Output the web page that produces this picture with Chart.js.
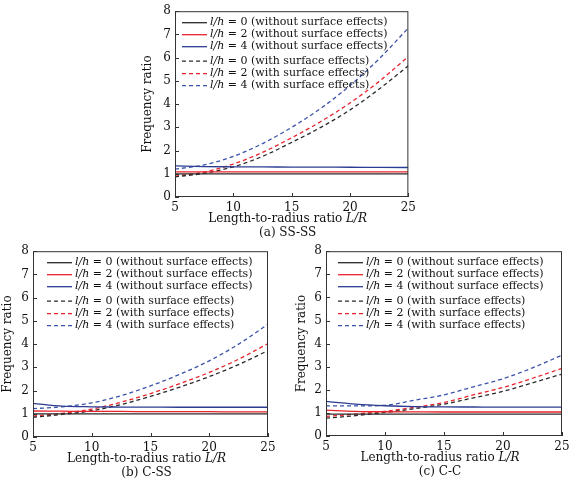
<!DOCTYPE html>
<html>
<head>
<meta charset="utf-8">
<script src="https://cdn.jsdelivr.net/npm/chart.js@4.4.1/dist/chart.umd.min.js"></script>
<style>
    html, body { margin: 0; padding: 0; background: #fff; }
    body { width: 585px; height: 489px; position: relative; overflow: hidden; }
    canvas { position: absolute; }
</style>
</head>
<body>
<canvas id="chartSS" width="280" height="242" style="left:140px;top:0px;"></canvas>
<canvas id="chartCSS" width="290" height="249" style="left:0px;top:240px;"></canvas>
<canvas id="chartCC" width="295" height="249" style="left:290px;top:240px;"></canvas>
<script>
// length-to-radius ratio L/R (x positions of the read values)
const lengthRatio = [5, 7.5, 10, 12.5, 15, 17.5, 20, 22.5, 25];
const xTicks = [5, 10, 15, 20, 25];
const yTicks = [0, 1, 2, 3, 4, 5, 6, 7, 8];

const legendLabels = [
    ['0', '(without surface effects)'],
    ['2', '(without surface effects)'],
    ['4', '(without surface effects)'],
    ['0', '(with surface effects)'],
    ['2', '(with surface effects)'],
    ['4', '(with surface effects)']
];

// (a) SS-SS
const ssNoSurf0 = [1.0, 1.0, 1.0, 1.0, 1.0, 1.0, 1.0, 1.0, 1.0];
const ssNoSurf2 = [1.08, 1.08, 1.08, 1.08, 1.08, 1.08, 1.08, 1.08, 1.08];
const ssNoSurf4 = [1.34, 1.31, 1.30, 1.295, 1.29, 1.285, 1.28, 1.275, 1.27];
const ssSurf0 = [0.87, 1.02, 1.30, 1.75, 2.35, 3.00, 3.75, 4.65, 5.65];
const ssSurf2 = [0.90, 1.07, 1.42, 1.92, 2.55, 3.25, 4.05, 4.98, 6.05];
const ssSurf4 = [1.20, 1.38, 1.75, 2.30, 3.00, 3.82, 4.80, 5.95, 7.28];

// (b) C-SS
const cssNoSurf0 = [1.0, 1.0, 1.0, 1.0, 1.0, 1.0, 1.0, 1.0, 1.0];
const cssNoSurf2 = [1.12, 1.11, 1.10, 1.10, 1.09, 1.09, 1.09, 1.08, 1.08];
const cssNoSurf4 = [1.45, 1.33, 1.30, 1.29, 1.285, 1.28, 1.28, 1.28, 1.28];
const cssSurf0 = [0.85, 0.97, 1.13, 1.40, 1.75, 2.15, 2.60, 3.12, 3.72];
const cssSurf2 = [0.90, 1.02, 1.20, 1.50, 1.87, 2.30, 2.78, 3.35, 4.02];
const cssSurf4 = [1.22, 1.30, 1.47, 1.78, 2.20, 2.70, 3.28, 4.00, 4.86];

// (c) C-C
const ccNoSurf0 = [0.95, 0.95, 0.95, 0.95, 0.95, 0.95, 0.95, 0.95, 0.95];
const ccNoSurf2 = [1.12, 1.07, 1.05, 1.045, 1.04, 1.04, 1.04, 1.04, 1.04];
const ccNoSurf4 = [1.50, 1.38, 1.31, 1.27, 1.26, 1.255, 1.25, 1.25, 1.25];
const ccSurf0 = [0.77, 0.88, 1.02, 1.18, 1.38, 1.65, 1.93, 2.30, 2.68];
const ccSurf2 = [0.85, 0.95, 1.07, 1.24, 1.45, 1.78, 2.10, 2.50, 2.93];
const ccSurf4 = [1.30, 1.30, 1.33, 1.55, 1.78, 2.13, 2.48, 2.95, 3.50];

const FONT = "'DejaVu Serif', 'Liberation Serif', serif";
const TEXT = '#111';
const LEGEND_SIZE = 11;
const TITLE_SIZE = 12;
const TICK_SIZE = 12;
const lineStyles = [
    { color: '#2a2a2a', dash: [] },
    { color: '#e8232b', dash: [] },
    { color: '#2b3c92', dash: [] },
    { color: '#2a2a2a', dash: [4, 3] },
    { color: '#e8232b', dash: [4, 3] },
    { color: '#3a52aa', dash: [4, 3] }
];

function drawParts(ctx, parts, x, y, size) {
    parts.forEach(p => {
        ctx.font = (p.italic ? 'italic ' : '') + size + 'px ' + FONT;
        ctx.fillText(p.t, x, y);
        x += ctx.measureText(p.t).width;
    });
    return x;
}

function partsWidth(ctx, parts, size) {
    let w = 0;
    parts.forEach(p => {
        ctx.font = (p.italic ? 'italic ' : '') + size + 'px ' + FONT;
        w += ctx.measureText(p.t).width;
    });
    return w;
}

const framePlugin = {
    id: 'frame',
    afterDraw(chart) {
        const ctx = chart.ctx;
        const a = chart.chartArea;
        const o = chart.options.plugins.frame;
        ctx.save();

        // box and inward ticks
        ctx.strokeStyle = '#333';
        ctx.lineWidth = 1;
        ctx.setLineDash([]);
        ctx.strokeRect(a.left + 0.5, a.top + 0.5, a.right - a.left - 1, a.bottom - a.top - 1);
        const xs = chart.scales.x;
        const ys = chart.scales.y;
        ctx.beginPath();
        xs.ticks.forEach((t, i) => {
            const px = Math.round(xs.getPixelForTick(i)) + 0.5;
            ctx.moveTo(px, a.bottom);
            ctx.lineTo(px, a.bottom - 4);
        });
        ys.ticks.forEach((t, i) => {
            const py = Math.round(ys.getPixelForTick(i)) + 0.5;
            ctx.moveTo(a.left, py);
            ctx.lineTo(a.left + 4, py);
        });
        ctx.stroke();

        // legend inside the plot
        const rows = [11, 23, 35, 49.5, 62, 74];
        ctx.textBaseline = 'middle';
        ctx.fillStyle = TEXT;
        chart.data.datasets.forEach((ds, i) => {
            const y = a.top + rows[i];
            const x0 = a.left + o.legendX;
            ctx.strokeStyle = ds.borderColor;
            ctx.lineWidth = 1.3;
            ctx.setLineDash(ds.borderDash || []);
            ctx.beginPath();
            ctx.moveTo(x0, y + 0.5);
            ctx.lineTo(x0 + 25, y + 0.5);
            ctx.stroke();
            ctx.setLineDash([]);
            ctx.fillStyle = TEXT;
            drawParts(ctx, [
                { t: 'l/h', italic: true },
                { t: ' = ' + legendLabels[i][0] + ' ' + legendLabels[i][1] }
            ], x0 + 28, y, LEGEND_SIZE);
        });

        // axis titles and caption
        ctx.textBaseline = 'middle';
        ctx.save();
        ctx.translate(a.left + o.yTitleDx, (a.top + a.bottom) / 2);
        ctx.rotate(-Math.PI / 2);
        ctx.textAlign = 'center';
        ctx.font = TITLE_SIZE + 'px ' + FONT;
        ctx.fillText('Frequency ratio', 0, 0);
        ctx.restore();

        const cx = (a.left + a.right) / 2 - 4;
        const xt = [{ t: 'Length-to-radius ratio ' }, { t: 'L/R', italic: true }];
        ctx.textAlign = 'left';
        drawParts(ctx, xt, cx - partsWidth(ctx, xt, TITLE_SIZE) / 2, a.bottom + 22, TITLE_SIZE);
        ctx.textAlign = 'center';
        ctx.font = TITLE_SIZE + 'px ' + FONT;
        ctx.fillText(o.caption, cx, a.bottom + 36);
        ctx.restore();
    }
};

function makeChart(id, series, box, extra) {
    const canvas = document.getElementById(id);
    const ctx = canvas.getContext('2d');
    const datasets = series.map((vals, i) => ({
        data: lengthRatio.map((x, k) => ({ x: x, y: vals[k] })),
        borderColor: lineStyles[i].color,
        borderDash: lineStyles[i].dash,
        borderWidth: 1.3,
        pointRadius: 0,
        fill: false,
        cubicInterpolationMode: 'monotone'
    }));

    return new Chart(ctx, {
        type: 'line',
        data: { datasets: datasets },
        options: {
            responsive: false,
            animation: false,
            devicePixelRatio: 1,
            layout: {
                padding: { left: 0, top: box.top, right: canvas.width - box.right, bottom: 0 }
            },
            scales: {
                x: {
                    type: 'linear',
                    min: 5,
                    max: 25,
                    afterFit: s => { s.height = canvas.height - box.bottom; },
                    afterBuildTicks: s => { s.ticks = xTicks.map(v => ({ value: v })); },
                    grid: { display: false, drawTicks: false },
                    border: { display: false },
                    ticks: { padding: 4, color: TEXT, font: { family: FONT, size: TICK_SIZE } }
                },
                y: {
                    type: 'linear',
                    min: 0,
                    max: 8,
                    afterFit: s => { s.width = box.left; },
                    afterBuildTicks: s => { s.ticks = yTicks.map(v => ({ value: v })); },
                    grid: { display: false, drawTicks: false },
                    border: { display: false },
                    ticks: { padding: 4, color: TEXT, font: { family: FONT, size: TICK_SIZE } }
                }
            },
            plugins: {
                legend: { display: false },
                tooltip: { enabled: false },
                frame: extra
            }
        },
        plugins: [framePlugin]
    });
}

makeChart('chartSS',
    [ssNoSurf0, ssNoSurf2, ssNoSurf4, ssSurf0, ssSurf2, ssSurf4],
    { left: 35, top: 9, right: 270, bottom: 197 },
    { legendX: 7, yTitleDx: -27, caption: '(a) SS-SS' });

makeChart('chartCSS',
    [cssNoSurf0, cssNoSurf2, cssNoSurf4, cssSurf0, cssSurf2, cssSurf4],
    { left: 33, top: 10, right: 268, bottom: 197 },
    { legendX: 14, yTitleDx: -25, caption: '(b) C-SS' });

makeChart('chartCC',
    [ccNoSurf0, ccNoSurf2, ccNoSurf4, ccSurf0, ccSurf2, ccSurf4],
    { left: 36, top: 10, right: 272, bottom: 196 },
    { legendX: 12, yTitleDx: -24, caption: '(c) C-C' });
</script>
</body>
</html>
